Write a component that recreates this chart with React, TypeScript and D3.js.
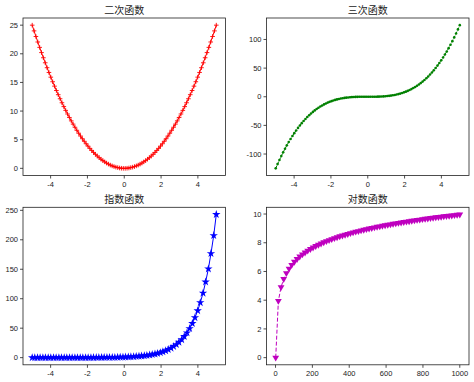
import React from "react";
import * as d3 from "d3";

// ---- data ----
const quadX: number[] = [-5.0,-4.899,-4.798,-4.697,-4.596,-4.495,-4.394,-4.293,-4.192,-4.091,-3.99,-3.889,-3.788,-3.687,-3.586,-3.485,-3.384,-3.283,-3.182,-3.081,-2.98,-2.879,-2.778,-2.677,-2.576,-2.475,-2.374,-2.273,-2.172,-2.071,-1.97,-1.869,-1.768,-1.667,-1.566,-1.465,-1.364,-1.263,-1.162,-1.061,-0.96,-0.859,-0.758,-0.657,-0.556,-0.455,-0.354,-0.253,-0.152,-0.051,0.051,0.152,0.253,0.354,0.455,0.556,0.657,0.758,0.859,0.96,1.061,1.162,1.263,1.364,1.465,1.566,1.667,1.768,1.869,1.97,2.071,2.172,2.273,2.374,2.475,2.576,2.677,2.778,2.879,2.98,3.081,3.182,3.283,3.384,3.485,3.586,3.687,3.788,3.889,3.99,4.091,4.192,4.293,4.394,4.495,4.596,4.697,4.798,4.899,5.0];
const quadY: number[] = [25.0,24.0,23.02,22.06,21.12,20.21,19.31,18.43,17.57,16.74,15.92,15.12,14.35,13.59,12.86,12.15,11.45,10.78,10.12,9.49,8.88,8.29,7.72,7.17,6.64,6.13,5.64,5.17,4.72,4.29,3.88,3.49,3.13,2.78,2.45,2.15,1.86,1.6,1.35,1.13,0.92,0.74,0.57,0.43,0.31,0.21,0.13,0.06,0.02,0.0,0.0,0.02,0.06,0.13,0.21,0.31,0.43,0.57,0.74,0.92,1.13,1.35,1.6,1.86,2.15,2.45,2.78,3.13,3.49,3.88,4.29,4.72,5.17,5.64,6.13,6.64,7.17,7.72,8.29,8.88,9.49,10.12,10.78,11.45,12.15,12.86,13.59,14.35,15.12,15.92,16.74,17.57,18.43,19.31,20.21,21.12,22.06,23.02,24.0,25.0];
const cubeY: number[] = [-125.0,-117.58,-110.45,-103.62,-97.07,-90.82,-84.85,-79.12,-73.66,-68.48,-63.52,-58.82,-54.36,-50.12,-46.12,-42.33,-38.75,-35.38,-32.21,-29.24,-26.46,-23.87,-21.44,-19.19,-17.1,-15.17,-13.39,-11.75,-10.25,-8.88,-7.64,-6.53,-5.53,-4.63,-3.84,-3.15,-2.54,-2.01,-1.57,-1.19,-0.88,-0.63,-0.44,-0.28,-0.17,-0.09,-0.04,-0.02,0.0,0.0,0.0,0.0,0.02,0.04,0.09,0.17,0.28,0.44,0.63,0.88,1.19,1.57,2.01,2.54,3.15,3.84,4.63,5.53,6.53,7.64,8.88,10.25,11.75,13.39,15.17,17.1,19.19,21.44,23.87,26.46,29.24,32.21,35.38,38.75,42.33,46.12,50.12,54.36,58.82,63.52,68.48,73.66,79.12,84.85,90.82,97.07,103.62,110.45,117.58,125.0];
const expX: number[] = [-5.0,-4.86,-4.71,-4.57,-4.42,-4.28,-4.13,-3.99,-3.84,-3.7,-3.55,-3.41,-3.26,-3.12,-2.97,-2.83,-2.68,-2.54,-2.39,-2.25,-2.1,-1.96,-1.81,-1.67,-1.52,-1.38,-1.23,-1.09,-0.94,-0.8,-0.65,-0.51,-0.36,-0.22,-0.07,0.07,0.22,0.36,0.51,0.65,0.8,0.94,1.09,1.23,1.38,1.52,1.67,1.81,1.96,2.1,2.25,2.39,2.54,2.68,2.83,2.97,3.12,3.26,3.41,3.55,3.7,3.84,3.99,4.13,4.28,4.42,4.57,4.71,4.86,5.0];
const expY: number[] = [0.0,0.0,0.01,0.01,0.01,0.01,0.01,0.01,0.01,0.02,0.02,0.02,0.03,0.03,0.04,0.04,0.05,0.06,0.07,0.08,0.1,0.12,0.14,0.16,0.19,0.22,0.26,0.3,0.36,0.42,0.49,0.57,0.67,0.79,0.92,1.08,1.27,1.49,1.75,2.05,2.4,2.82,3.3,3.87,4.54,5.32,6.24,7.32,8.58,10.06,11.8,13.84,16.22,19.02,22.31,26.16,30.67,35.96,42.17,49.45,57.98,67.99,79.72,93.48,109.61,128.53,150.72,176.73,207.23,243.0];
const logX: number[] = [1,15.5,30.0,44.4,58.9,73.4,87.9,102.3,116.8,131.3,145.8,160.3,174.7,189.2,203.7,218.2,232.7,247.1,261.6,276.1,290.6,305.0,319.5,334.0,348.5,363.0,377.4,391.9,406.4,420.9,435.3,449.8,464.3,478.8,493.3,507.7,522.2,536.7,551.2,565.7,580.1,594.6,609.1,623.6,638.0,652.5,667.0,681.5,696.0,710.4,724.9,739.4,753.9,768.3,782.8,797.3,811.8,826.3,840.7,855.2,869.7,884.2,898.7,913.1,927.6,942.1,956.6,971.0,985.5,1000];
const logY: number[] = [0.0,3.95,4.91,5.47,5.88,6.2,6.46,6.68,6.87,7.04,7.19,7.32,7.45,7.56,7.67,7.77,7.86,7.95,8.03,8.11,8.18,8.25,8.32,8.38,8.45,8.5,8.56,8.61,8.67,8.72,8.77,8.81,8.86,8.9,8.95,8.99,9.03,9.07,9.11,9.14,9.18,9.22,9.25,9.28,9.32,9.35,9.38,9.41,9.44,9.47,9.5,9.53,9.56,9.59,9.61,9.64,9.67,9.69,9.72,9.74,9.77,9.79,9.81,9.84,9.86,9.88,9.9,9.92,9.95,9.97];

const titles = ["二次函数", "三次函数", "指数函数", "对数函数"];
const ticksX1 = [-4, -2, 0, 2, 4];
const ticksQuadY = [0, 5, 10, 15, 20, 25];
const ticksCubeY = [-100, -50, 0, 50, 100];
const ticksExpY = [0, 50, 100, 150, 200, 250];
const ticksLogX = [0, 200, 400, 600, 800, 1000];
const ticksLogY = [0, 2, 4, 6, 8, 10];

type Marker = "plus" | "dot" | "star" | "tri";

interface PanelProps {
  x: number[];
  y: number[];
  left: number;
  top: number;
  width: number;
  height: number;
  title: string;
  xTicks: number[];
  yTicks: number[];
  color: string;
  dash?: string;
  marker: Marker;
}

function pad(ext: [number, number]): [number, number] {
  const m = (ext[1] - ext[0]) * 0.05;
  return [ext[0] - m, ext[1] + m];
}

const Panel: React.FC<PanelProps> = (p) => {
  const xs = d3.scaleLinear().domain(pad(d3.extent(p.x) as [number, number])).range([p.left, p.left + p.width]);
  const ys = d3.scaleLinear().domain(pad(d3.extent(p.y) as [number, number])).range([p.top + p.height, p.top]);
  const pts = p.x.map((v, i) => [xs(v), ys(p.y[i])] as [number, number]);
  const line = d3.line()(pts) || "";
  const star = d3.symbol(d3.symbolStar, 22)() || "";
  const tri = d3.symbol(d3.symbolTriangle, 20)() || "";
  const tick = 3;
  const font = "'Liberation Sans', Arial, sans-serif";
  return (
    <g>
      <text x={p.left + p.width / 2} y={p.top - 4} textAnchor="middle" fontSize={10}
        fontFamily="'Noto Sans CJK SC', sans-serif" fill="#222">{p.title}</text>
      <path d={line} fill="none" stroke={p.color} strokeWidth={1} strokeDasharray={p.dash} />
      {pts.map(([px, py], i) => {
        if (p.marker === "plus")
          return <path key={i} d={`M${px - 2.3},${py}H${px + 2.3}M${px},${py - 2.3}V${py + 2.3}`} stroke={p.color} strokeWidth={0.9} />;
        if (p.marker === "dot")
          return <circle key={i} cx={px} cy={py} r={1.3} fill={p.color} />;
        if (p.marker === "star")
          return <path key={i} d={star} transform={`translate(${px},${py})`} fill={p.color} />;
        return <path key={i} d={tri} transform={`translate(${px},${py}) rotate(180)`} fill={p.color} />;
      })}
      <rect x={p.left} y={p.top} width={p.width} height={p.height} fill="none" stroke="#222" strokeWidth={0.8} />
      {p.xTicks.map((t) => (
        <g key={"x" + t}>
          <line x1={xs(t)} x2={xs(t)} y1={p.top + p.height} y2={p.top + p.height + tick} stroke="#222" strokeWidth={0.8} />
          <text x={xs(t)} y={p.top + p.height + tick + 8} textAnchor="middle" fontSize={7.5} fontFamily={font} fill="#222">{String(t)}</text>
        </g>
      ))}
      {p.yTicks.map((t) => (
        <g key={"y" + t}>
          <line x1={p.left - tick} x2={p.left} y1={ys(t)} y2={ys(t)} stroke="#222" strokeWidth={0.8} />
          <text x={p.left - tick - 2} y={ys(t) + 2.7} textAnchor="end" fontSize={7.5} fontFamily={font} fill="#222">{String(t)}</text>
        </g>
      ))}
    </g>
  );
};

export default function App() {
  const W = 474, H = 382;
  const colL = 23, colR = 266.5, colW = 202.5;
  const rowT = 18, rowB = 207.3, rowH = 157.5;
  return (
    <svg width={W} height={H} style={{ position: "absolute", left: 0, top: 0, background: "#fff" }}>
      <rect width={W} height={H} fill="#fff" />
      <Panel x={quadX} y={quadY} left={colL} top={rowT} width={colW} height={rowH} title={titles[0]}
        xTicks={ticksX1} yTicks={ticksQuadY} color="#ff0000" marker="plus" />
      <Panel x={quadX} y={cubeY} left={colR} top={rowT} width={colW} height={rowH} title={titles[1]}
        xTicks={ticksX1} yTicks={ticksCubeY} color="#008000" marker="dot" dash="3,1.5" />
      <Panel x={expX} y={expY} left={colL} top={rowB} width={colW} height={rowH} title={titles[2]}
        xTicks={ticksX1} yTicks={ticksExpY} color="#0000ff" marker="star" />
      <Panel x={logX} y={logY} left={colR} top={rowB} width={colW} height={rowH} title={titles[3]}
        xTicks={ticksLogX} yTicks={ticksLogY} color="#bf00bf" marker="tri" dash="4,2" />
    </svg>
  );
}
